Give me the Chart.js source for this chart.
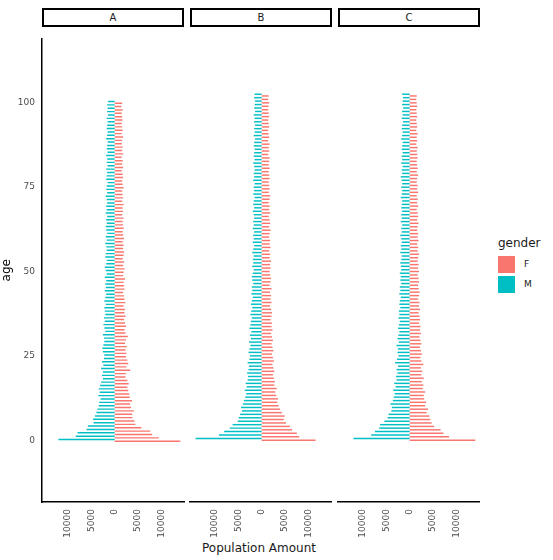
<!DOCTYPE html>
<html><head><meta charset="utf-8">
<script src="https://cdn.jsdelivr.net/npm/chart.js@4"></script>
<style>
body{margin:0;background:#fff;font-family:"DejaVu Sans",sans-serif;width:553px;height:560px;position:relative;overflow:hidden}
.box{position:absolute}
.strip{position:absolute;top:8px;height:19px;border:2px solid #000;box-sizing:border-box;font-size:10px;text-align:center;line-height:15px;color:#1a1a1a}
.lg{position:absolute;font-size:10px;color:#1a1a1a}
.key{position:absolute;width:17px;height:17px}
</style></head><body>
<div class="strip" style="left:42px;width:142px">A</div>
<div class="strip" style="left:190px;width:142px">B</div>
<div class="strip" style="left:338px;width:142px">C</div>
<div class="box" style="left:0;top:30px;width:185px;height:510px"><canvas id="cA"></canvas></div>
<div class="box" style="left:189px;top:30px;width:143px;height:510px"><canvas id="cB"></canvas></div>
<div class="box" style="left:337px;top:30px;width:143px;height:510px"><canvas id="cC"></canvas></div>
<div class="lg" style="left:202px;top:541px;font-size:12px">Population Amount</div>
<div class="lg" style="left:498px;top:236px;font-size:12px">gender</div>
<div class="key" style="left:498px;top:256px;background:#F8766D"></div>
<div class="lg" style="left:524px;top:259px;font-size:9px">F</div>
<div class="key" style="left:498px;top:276px;background:#00BFC4"></div>
<div class="lg" style="left:524px;top:279px;font-size:9px">M</div>
<script>
const ages = Array.from({length: 101}, (_, i) => i);

const maleA = [12000,8300,7900,6000,5700,4500,4600,4200,3900,3700,3400,3300,3000,3500,3200,3400,3100,2900,2500,2700,2500,2900,2400,2700,2300,2200,2500,2600,2400,2200,2300,2500,2000,2200,2400,2100,2300,2000,2100,2200,1900,2200,2000,1800,2100,1900,2000,1800,2100,1700,1900,2100,1800,1700,2000,1900,1700,1800,2000,1700,1900,1600,1800,1900,1700,1800,1600,1900,1700,1800,1600,1700,1900,1600,1800,1700,1500,1800,1700,1600,1800,1500,1700,1600,1800,1500,1700,1600,1500,1800,1600,1500,1700,1600,1500,1700,1400,1600,1500,1600,1400];
const femaleA = [14000,9400,8000,7600,5700,4400,4200,3800,3700,4100,3500,3300,3700,3200,3100,2900,2700,3000,2700,2300,2400,3300,2500,2900,2700,2400,2500,2300,2600,2200,2400,2800,2300,2100,2400,2200,2000,2300,2100,2200,1900,2300,2100,2000,1800,2100,2000,1900,2200,1800,1900,2100,1800,2000,1700,1900,2000,1800,1900,1700,2000,1800,1700,1900,1800,1700,1900,1600,1800,1700,1900,1600,1800,1700,1600,1900,1700,1600,1800,1700,1500,1800,1600,1700,1500,1800,1600,1700,1500,1600,1800,1500,1700,1600,1500,1700,1600,1500,1700,1400,1600];

const maleB = [14100,9100,8000,6800,6200,5100,4900,4600,4200,4400,4000,3800,3500,3300,3600,3200,3400,3000,2900,3100,2800,2700,3000,2600,2500,2800,2600,2400,2700,2300,2500,2200,2600,2400,2300,2100,2400,2200,2000,2300,2100,1900,2200,2000,2100,1800,2000,2100,1900,1700,2000,1800,1900,1700,2000,1800,1600,1900,1700,1800,1600,1900,1700,1800,1600,1700,1900,1600,1800,1700,1500,1800,1600,1700,1500,1800,1600,1700,1500,1600,1800,1500,1700,1600,1500,1700,1600,1400,1700,1500,1600,1400,1600,1500,1700,1400,1600,1500,1400,1600,1500];
const femaleB = [11500,8000,7500,6500,6000,5200,4700,4900,4300,3900,3600,3300,3500,3100,2900,3200,2700,2800,2600,2400,2700,2500,2300,2600,2400,2200,2500,2300,2100,2400,2200,2000,2300,2100,2200,1900,2100,2200,2000,1800,2100,1900,2000,1800,2100,1700,1900,2000,1800,1700,1900,1800,2000,1700,1800,1600,1900,1700,1800,1600,1700,1900,1600,1800,1700,1500,1800,1600,1700,1500,1700,1800,1500,1700,1600,1500,1700,1600,1500,1700,1500,1600,1700,1400,1600,1500,1700,1400,1600,1500,1400,1600,1500,1400,1600,1500,1400,1500,1600,1400,1500];

const maleC = [12000,8200,7400,6500,6300,5400,4700,4500,3900,3800,4100,3600,3400,3200,3500,3000,3300,2800,2900,2600,2800,2500,3100,2700,2400,2600,2500,2800,2300,2600,2400,2200,2500,2300,2100,2400,2200,2300,2000,2200,2100,1900,2200,2000,2100,1800,2000,1900,2100,1800,1900,2000,1800,1700,2000,1800,1900,1700,1800,2000,1700,1800,1600,1900,1700,1800,1600,1800,1700,1600,1900,1700,1600,1800,1600,1700,1900,1600,1700,1500,1800,1600,1700,1500,1700,1600,1500,1800,1600,1500,1700,1600,1400,1700,1500,1600,1400,1600,1500,1400,1600];
const femaleC = [14000,8400,7200,6600,5200,4700,4400,4200,3600,3900,3300,3500,3100,3000,3300,2800,2900,2600,3000,2500,2700,2400,2900,2500,2300,2600,2400,2200,2500,2300,2100,2400,2200,2300,2000,2200,2100,1900,2200,2000,2100,1800,2000,2100,1900,1800,2000,1900,1700,2000,1800,1900,1700,1800,2000,1700,1800,1600,1900,1700,1800,1600,1700,1900,1600,1800,1700,1500,1800,1600,1700,1500,1800,1600,1700,1500,1600,1800,1500,1700,1600,1500,1700,1600,1500,1700,1400,1600,1500,1700,1400,1600,1500,1400,1600,1500,1400,1600,1500,1400,1500];

const xTicks = [-10000, -5000, 0, 5000, 10000];
const yTicks = [0, 25, 50, 75, 100];

const series = {A: [maleA, femaleA], B: [maleB, femaleB], C: [maleC, femaleC]};

function makeChart(id, name, showY) {
  const [m, f] = series[name];
  new Chart(document.getElementById(id), {
    type: 'bar',
    data: {
      datasets: [
        {label: 'M', data: ages.map(a => ({y: a, x: -m[a]})), backgroundColor: '#00BFC4'},
        {label: 'F', data: ages.map(a => ({y: a, x: f[a]})), backgroundColor: '#F8766D'}
      ]
    },
    options: {
      indexAxis: 'y',
      responsive: true,
      maintainAspectRatio: false,
      animation: false,
      layout: {padding: 0},
      datasets: {bar: {barPercentage: 0.85, categoryPercentage: 1}},
      plugins: {legend: {display: false}, tooltip: {enabled: false}},
      scales: {
        x: {
          type: 'linear',
          min: -15500, max: 15000,
          afterBuildTicks: ax => { ax.ticks = xTicks.map(v => ({value: v})); },
          afterFit: ax => { ax.height = 38; },
          grid: {display: false, tickLength: 4, tickColor: '#333'},
          border: {color: '#000', width: 1.5},
          ticks: {minRotation: 90, maxRotation: 90, color: '#4d4d4d', font: {size: 9, family: 'DejaVu Sans'},
            callback: v => String(Math.abs(v))}
        },
        y: {
          type: 'linear',
          min: -4.5, max: 105.2,
          display: showY,
          afterBuildTicks: ax => { ax.ticks = yTicks.map(v => ({value: v})); },
          afterFit: ax => { ax.width = showY ? 42 : 0; },
          grid: {display: false, tickLength: 4, tickColor: '#333'},
          border: {color: '#000', width: 1.5},
          title: {display: true, text: 'age', color: '#000', font: {size: 12, family: 'DejaVu Sans'}, padding: 0},
          ticks: {color: '#4d4d4d', font: {size: 9, family: 'DejaVu Sans'}}
        }
      }
    }
  });
}
makeChart('cA', 'A', true);
makeChart('cB', 'B', false);
makeChart('cC', 'C', false);
</script>
</body></html>
